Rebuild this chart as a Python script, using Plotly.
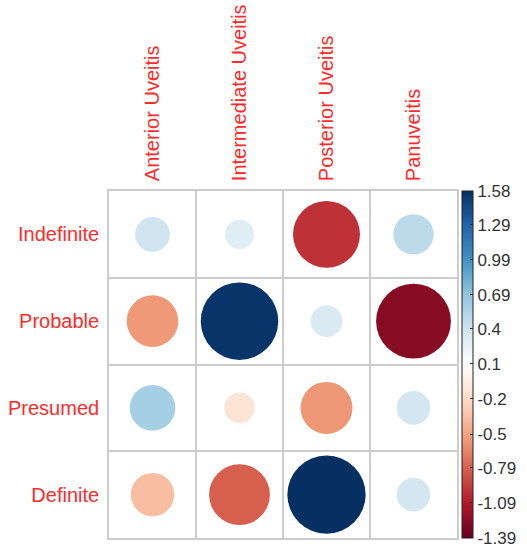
import numpy as np
import plotly.graph_objects as go

columns = ["Anterior Uveitis", "Intermediate Uveitis", "Posterior Uveitis", "Panuveitis"]
rows = ["Indefinite", "Probable", "Presumed", "Definite"]

# one list per row, values in column order
indefinite = [0.39, 0.30, -0.99, 0.49]
probable = [-0.55, 1.55, 0.34, -1.26]
presumed = [0.60, -0.13, -0.56, 0.37]
definite = [-0.36, -0.80, 1.58, 0.37]

col_lim = [-1.39, 1.58]
cbar_ticks = [1.58, 1.29, 0.99, 0.69, 0.4, 0.1, -0.2, -0.5, -0.79, -1.09, -1.39]

rdbu = ["#67001F", "#B2182B", "#D6604D", "#F4A582", "#FDDBC7", "#FFFFFF",
        "#D1E5F0", "#92C5DE", "#4393C3", "#2166AC", "#053061"]
colorscale = [[i / (len(rdbu) - 1), c] for i, c in enumerate(rdbu)]

W, H = 527, 550
margin = dict(l=109, r=70, t=191, b=12, autoexpand=False)
cell = (W - margin["l"] - margin["r"]) / len(columns)

matrix = np.array([indefinite, probable, presumed, definite])
xs, ys, vals = [], [], []
for i, r in enumerate(rows):
    for j, c in enumerate(columns):
        xs.append(j + 1)
        ys.append(len(rows) - i)
        vals.append(matrix[i, j])
vals = np.array(vals)

# corrplot-style scaling: centre of colour limits -> 0, limits -> +-1
mid = (col_lim[0] + col_lim[1]) / 2
half = (col_lim[1] - col_lim[0]) / 2
scaled = (vals - mid) / half
sizes = 0.9 * cell * np.sqrt(np.abs(scaled))

fig = go.Figure()
fig.add_trace(go.Scatter(
    x=xs, y=ys, mode="markers",
    marker=dict(
        size=sizes, color=vals, colorscale=colorscale,
        cmin=col_lim[0], cmax=col_lim[1], line=dict(width=0), opacity=1,
        colorbar=dict(
            x=1.014, xanchor="left", y=0.5, yanchor="middle", len=1.0,
            xpad=0, ypad=0,
            thickness=11, outlinewidth=1, outlinecolor="#222222",
            tickvals=cbar_ticks, ticktext=[str(t) for t in cbar_ticks],
            ticks="inside", ticklen=3, tickcolor="#333333",
            tickfont=dict(size=17, color="#333333", family="Liberation Sans"),
        ),
    ),
    hovertemplate="%{marker.color:.2f}<extra></extra>",
    showlegend=False,
))

grid = dict(tick0=0.5, dtick=1, showgrid=True, gridcolor="#CCCCCC", gridwidth=1.7)
fig.update_xaxes(
    range=[0.5, 4.5], side="top", tickvals=[1, 2, 3, 4], ticktext=columns,
    tickangle=-90, showgrid=False, zeroline=False, ticks="", automargin=False,
    ticklabelstandoff=4,
    showline=True, mirror=True, linecolor="#CCCCCC", linewidth=1.7,
    tickfont=dict(size=20, color="#FF2B2B", family="Liberation Sans"),
    minor=grid, fixedrange=True,
)
fig.update_yaxes(
    range=[0.5, 4.5], tickvals=[4, 3, 2, 1], ticktext=rows,
    showgrid=False, zeroline=False, ticks="", automargin=False,
    ticklabelstandoff=4,
    showline=True, mirror=True, linecolor="#CCCCCC", linewidth=1.7,
    tickfont=dict(size=20, color="#FF2B2B", family="Liberation Sans"),
    minor=grid, fixedrange=True,
)
fig.update_layout(
    width=W, height=H, margin=margin,
    plot_bgcolor="white", paper_bgcolor="white",
)

# drop the page's default body margin so the figure sits at the window's corner
fig.write_html("out.html", config={"displayModeBar": False},
               post_script="document.body.style.margin='0px';")
